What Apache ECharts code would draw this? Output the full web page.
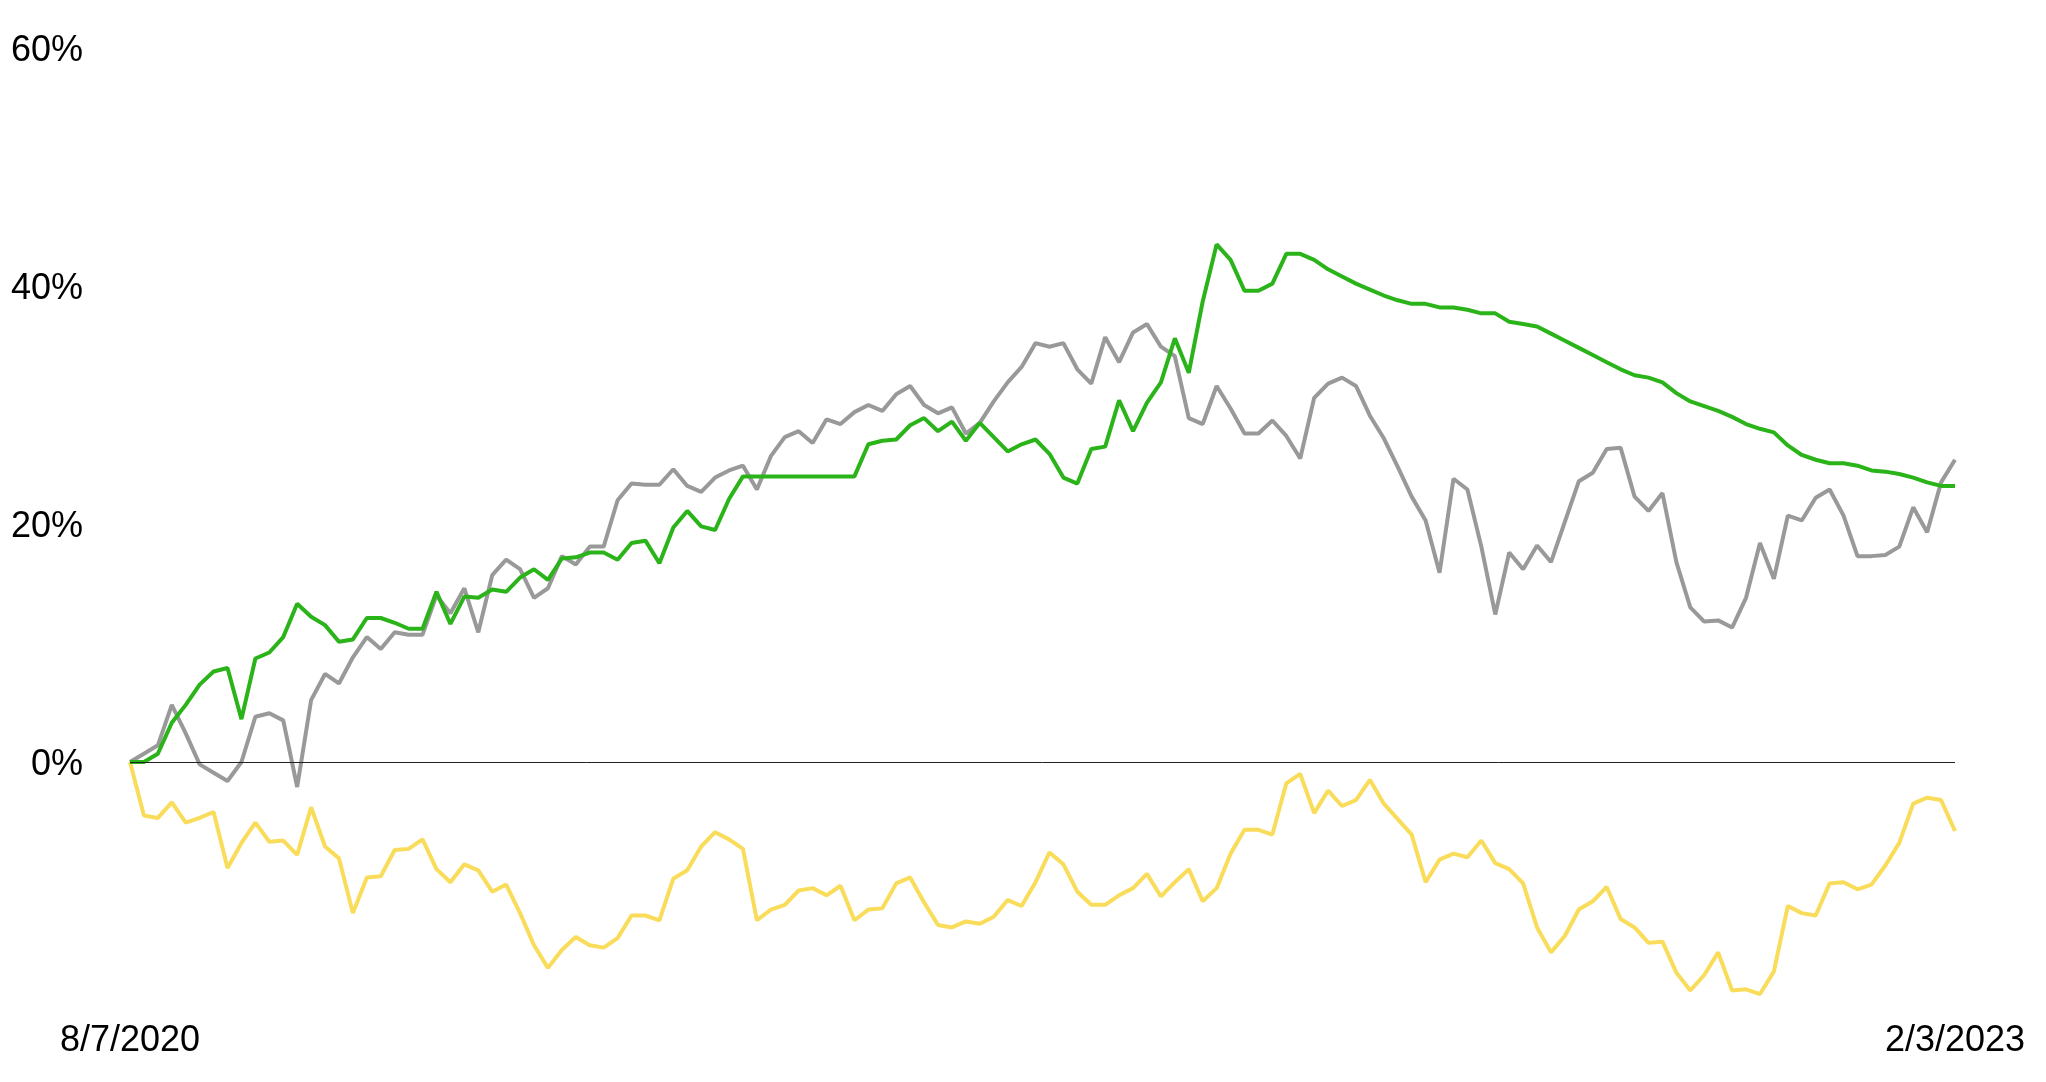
<!DOCTYPE html>
<html>
<head>
<meta charset="utf-8">
<script src="https://cdn.jsdelivr.net/npm/echarts@6/dist/echarts.min.js"></script>
<style>
  html, body { margin: 0; padding: 0; background: #fff; }
  #chart { width: 2046px; height: 1082px; }
</style>
</head>
<body>
<div id="chart"></div>
<script>
// Tick labels on the x axis (first and last observation)
const xTickLabels = ['8/7/2020', '2/3/2023'];
// y-axis tick values (percent)
const yTicks = [0, 20, 40, 60];

// Cumulative return series (%), weekly observations
const greenSeries = [
  0, 0, 0.7, 3.3, 4.8, 6.5, 7.6, 7.9, 3.6, 8.7,
  9.2, 10.5, 13.3, 12.2, 11.5, 10.1, 10.3, 12.1, 12.1, 11.7,
  11.2, 11.2, 14.3, 11.6, 13.9, 13.8, 14.5, 14.3, 15.5, 16.2,
  15.3, 17.1, 17.2, 17.6, 17.6, 17.0, 18.4, 18.6, 16.7, 19.7,
  21.1, 19.8, 19.5, 22.1, 24.0, 24.0, 24.0, 24.0, 24.0, 24.0,
  24.0, 24.0, 24.0, 26.7, 27.0, 27.1, 28.3, 28.9, 27.8, 28.6,
  27.0, 28.5, 27.3, 26.1, 26.7, 27.1, 25.9, 23.9, 23.4, 26.3,
  26.5, 30.4, 27.8, 30.2, 31.9, 35.6, 32.7, 38.7, 43.5, 42.2,
  39.6, 39.6, 40.2, 42.7, 42.7, 42.2, 41.4, 40.8, 40.2, 39.7,
  39.2, 38.8, 38.5, 38.5, 38.2, 38.2, 38.0, 37.7, 37.7, 37.0,
  36.8, 36.6, 36.0, 35.4, 34.8, 34.2, 33.6, 33.0, 32.5, 32.3,
  31.9, 31.0, 30.3, 29.9, 29.5, 29.0, 28.4, 28.0, 27.7, 26.6,
  25.8, 25.4, 25.1, 25.1, 24.9, 24.5, 24.4, 24.2, 23.9, 23.5,
  23.2, 23.2
];
const graySeries = [
  0, 0.7, 1.4, 4.8, 2.4, -0.2, -0.9, -1.6, 0, 3.8,
  4.1, 3.5, -2.1, 5.2, 7.4, 6.6, 8.8, 10.5, 9.5, 10.9,
  10.7, 10.7, 14.0, 12.5, 14.6, 10.9, 15.7, 17.0, 16.2, 13.8,
  14.6, 17.3, 16.6, 18.1, 18.1, 22.0, 23.4, 23.3, 23.3, 24.6,
  23.2, 22.7, 23.9, 24.5, 24.9, 22.9, 25.7, 27.3, 27.8, 26.8,
  28.8, 28.4, 29.4, 30.0, 29.5, 30.9, 31.6, 30.0, 29.3, 29.8,
  27.6, 28.5, 30.3, 31.9, 33.2, 35.2, 34.9, 35.2, 33.0, 31.8,
  35.7, 33.6, 36.1, 36.8, 34.9, 34.1, 28.9, 28.4, 31.6, 29.7,
  27.6, 27.6, 28.7, 27.4, 25.5, 30.6, 31.8, 32.3, 31.6, 29.1,
  27.2, 24.8, 22.3, 20.3, 15.9, 23.8, 22.9, 18.1, 12.4, 17.6,
  16.2, 18.2, 16.8, 20.2, 23.6, 24.3, 26.3, 26.4, 22.3, 21.1,
  22.6, 16.8, 13.0, 11.8, 11.9, 11.3, 13.8, 18.4, 15.4, 20.7,
  20.3, 22.2, 22.9, 20.7, 17.3, 17.3, 17.4, 18.1, 21.4, 19.3,
  23.5, 25.4
];
const yellowSeries = [
  0, -4.5, -4.7, -3.4, -5.1, -4.7, -4.2, -8.9, -6.8, -5.1,
  -6.7, -6.6, -7.8, -3.8, -7.1, -8.1, -12.7, -9.7, -9.6, -7.4,
  -7.3, -6.5, -9.0, -10.1, -8.6, -9.1, -10.9, -10.3, -12.7, -15.4,
  -17.3, -15.8, -14.7, -15.4, -15.6, -14.8, -12.9, -12.9, -13.3, -9.8,
  -9.1, -7.1, -5.9, -6.5, -7.3, -13.3, -12.4, -12.0, -10.8, -10.6,
  -11.2, -10.4, -13.3, -12.4, -12.3, -10.2, -9.7, -11.8, -13.7, -13.9,
  -13.4, -13.6, -13.0, -11.6, -12.1, -10.1, -7.6, -8.6, -10.9, -12.0,
  -12.0, -11.2, -10.6, -9.4, -11.3, -10.1, -9.0, -11.7, -10.6, -7.7,
  -5.7, -5.7, -6.1, -1.8, -1.0, -4.3, -2.4, -3.7, -3.2, -1.5,
  -3.5, -4.8, -6.1, -10.1, -8.2, -7.7, -8.0, -6.6, -8.5, -9.0,
  -10.2, -13.9, -16.0, -14.6, -12.4, -11.7, -10.5, -13.2, -13.9, -15.2,
  -15.1, -17.7, -19.2, -17.9, -16.0, -19.2, -19.1, -19.5, -17.6, -12.1,
  -12.7, -12.9, -10.2, -10.1, -10.7, -10.3, -8.7, -6.8, -3.5, -3.0,
  -3.2, -5.8
];

const n = greenSeries.length;
const categories = greenSeries.map((_, i) => i);

const chart = echarts.init(document.getElementById('chart'), null, { renderer: 'canvas' });
const font = "'Liberation Sans', Arial, Helvetica, sans-serif";

chart.setOption({
  animation: false,
  backgroundColor: '#ffffff',
  grid: { left: 130, right: 91, top: 48, bottom: 82, containLabel: false },
  xAxis: {
    type: 'category',
    data: categories,
    boundaryGap: false,
    axisLine: { show: false },
    axisTick: { show: false },
    splitLine: { show: false },
    axisLabel: {
      interval: (idx) => idx === 0 || idx === n - 1,
      formatter: (v, idx) => idx === 0 ? xTickLabels[0] : (idx === n - 1 ? xTickLabels[1] : ''),
      fontSize: 36,
      fontFamily: font,
      color: '#000',
      margin: 23,
      showMinLabel: true,
      showMaxLabel: true
    }
  },
  yAxis: {
    type: 'value',
    min: -20,
    max: 60,
    interval: 20,
    axisLine: { show: false },
    axisTick: { show: false },
    splitLine: { show: false },
    axisLabel: {
      formatter: (v) => yTicks.includes(v) ? '{a|' + v + '%}' : '',
      margin: 47,
      rich: {
        a: {
          fontSize: 36,
          fontFamily: font,
          color: '#000',
          lineHeight: 36,
          padding: [7, 0, 0, 0]
        }
      }
    }
  },
  series: [
    {
      type: 'line', data: yellowSeries, showSymbol: false, symbol: 'none',
      lineStyle: { color: '#f9dc5a', width: 4 },
      markLine: {
        silent: true, symbol: 'none', label: { show: false },
        lineStyle: { color: '#222', width: 1, type: 'solid' },
        data: [{ yAxis: 0 }]
      },
      z: 2
    },
    {
      type: 'line', data: graySeries, showSymbol: false, symbol: 'none',
      lineStyle: { color: '#999999', width: 4 }, z: 3
    },
    {
      type: 'line', data: greenSeries, showSymbol: false, symbol: 'none',
      lineStyle: { color: '#2bb31a', width: 4 }, z: 4
    }
  ]
});
</script>
</body>
</html>
